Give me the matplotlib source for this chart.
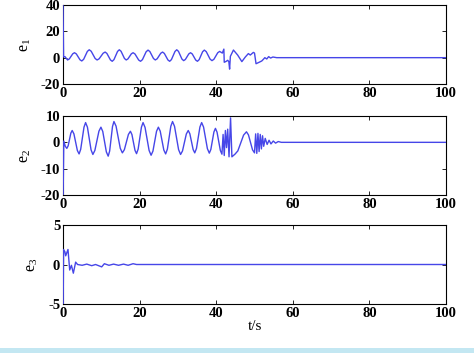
import matplotlib
matplotlib.use("Agg")
import matplotlib.pyplot as plt
from matplotlib.patches import Rectangle

plt.rcParams['font.family'] = ['Liberation Serif', 'DejaVu Serif']
plt.rcParams['mathtext.fontset'] = 'custom'
plt.rcParams['mathtext.rm'] = 'Liberation Serif'
plt.rcParams['mathtext.it'] = 'Liberation Serif:italic'
plt.rcParams['axes.unicode_minus'] = False

# ---- data ----
t_e1 = [0, 0.15, 0.5, 1.2, 1.65, 2.55, 3.0, 3.48, 4.43, 4.9, 5.39, 6.36, 6.85, 7.36, 8.39,
        8.9, 9.43, 10.48, 11.0, 11.46, 12.39, 12.85, 13.31, 14.24, 14.7, 15.15, 16.05,
        16.5, 16.95, 17.85, 18.3, 18.79, 19.76, 20.25, 20.74, 21.71, 22.2, 22.68, 23.63,
        24.1, 24.58, 25.53, 26.0, 26.46, 27.39, 27.85, 28.31, 29.24, 29.7, 30.15, 31.05,
        31.5, 31.95, 32.85, 33.3, 33.75, 34.65, 35.1, 35.55, 36.45, 36.9, 37.4, 38.4,
        38.9, 39.4, 40.4, 40.9, 41.6, 42.0,
        42.1, 42.6, 43.0, 43.3, 43.5, 43.7, 44.5, 45.6, 46.7, 47.6, 48.4, 48.9, 49.7,
        50.0, 50.4, 51.2, 51.9, 52.4, 52.7, 53.2, 53.7, 54.2, 54.8, 55.8, 100]
e1 = [42, 0.5, 0.8, -1.75, -0.94, 2.94, 3.75, 2.84, -1.59, -2.5, -1.25, 4.75, 6.0, 4.87, -0.62,
      -1.75, -0.87, 3.37, 4.25, 3.22, -1.72, -2.75, -1.47, 4.72, 6.0, 4.87, -0.62,
      -1.75, -0.94, 2.94, 3.75, 2.8, -1.8, -2.75, -1.5, 4.5, 5.75, 4.65, -0.65,
      -1.75, -0.87, 3.37, 4.25, 3.22, -1.72, -2.75, -1.47, 4.72, 6.0, 4.79, -1.04,
      -2.25, -1.37, 2.87, 3.75, 2.8, -1.8, -2.75, -1.5, 4.5, 5.75, 4.58, -1.08,
      -2.25, -1.22, 3.72, 4.75, 3.5, 6.5,
      -3.5, -2.8, -2.0, -3.0, -8.7, 1.0, 5.8, 2.0, -3.0, 0.5, 3.1, 2.0, 4.0,
      3.5, -4.6, -3.5, -2.5, -1.0, 0.0, -1.0, 0.8, -0.3, 0.5, 0.0, 0.0]

t_e2 = [0, 0.2, 0.6, 1.0, 1.35, 2.05, 2.4, 2.85, 3.75, 4.2, 4.62, 5.48, 5.9, 6.38, 7.32,
        7.8, 8.32, 9.38, 9.9, 10.38, 11.32, 11.8, 12.18, 12.92, 13.3, 13.85, 14.95,
        15.5, 16.02, 17.08, 17.6, 18.0, 18.8, 19.2, 19.62, 20.48, 20.9, 21.42, 22.48,
        23.0, 23.48, 24.42, 24.9, 25.38, 26.32, 26.8, 27.25, 28.15, 28.6, 29.12, 30.18,
        30.7, 31.2, 32.2, 32.7, 33.12, 33.98, 34.4, 34.85, 35.75, 36.2, 36.7, 37.7,
        38.2, 38.6, 39.4, 39.8, 40.22, 41.08, 41.5, 41.8, 42.1, 42.4, 42.7, 43.0,
        43.35, 43.75, 44.1, 44.9, 45.65, 47.15, 47.9, 48.42, 49.48, 50.0, 50.3, 50.6,
        50.9, 51.2, 51.5, 51.8, 52.1, 52.4, 52.8, 53.3, 53.8, 54.3, 54.9, 55.5, 56.2,
        57.0, 100]
e2 = [-25, 0.5, -1.5, -2.3, -1.3, 3.5, 4.5, 3.2, -3.1, -4.4, -2.65, 5.75, 7.5, 5.73, -2.83,
      -4.6, -3.08, 4.23, 5.75, 4.14, -3.64, -5.25, -3.32, 5.97, 7.9, 6.16, -2.26,
      -4.0, -2.8, 3.0, 4.2, 2.95, -3.05, -4.3, -2.57, 5.77, 7.5, 5.68, -3.08,
      -4.9, -3.34, 4.19, 5.75, 4.26, -2.91, -4.4, -2.6, 6.1, 7.9, 6.07, -2.77,
      -4.6, -3.27, 3.17, 4.5, 3.25, -2.75, -4.0, -2.32, 5.82, 7.5, 5.8, -2.4,
      -4.1, -2.72, 3.92, 5.3, 3.86, -3.06, -4.5, 3.0, -5.0, 4.5, -2.0, 5.0,
      -5.5, 9.3, -5.5, -4.5, -3.25, 2.75, 4.0, 2.83, -2.83, -4.0, 3.2, -4.2,
      3.4, -3.5, 3.0, -2.5, 2.5, -1.5, 1.5, -0.8, 0.8, -0.6, 0.5, -0.3, 0.3,
      0.0, 0.0]

t_e3 = [0, 0.15, 0.5, 0.7, 1.3, 1.75, 2.2, 2.7, 3.3, 3.8, 5.0, 6.2, 7.5, 8.5, 10.1,
        10.8, 12.0, 13.2, 14.5, 15.8, 17.0, 18.3, 19.2, 100]
e3 = [-8, 1.9, 1.6, 1.1, 1.9, -0.7, -0.1, -1.1, 0.3, 0.0, -0.1, 0.05, -0.15, 0.0, -0.3,
      0.1, -0.1, 0.05, -0.1, 0.05, -0.1, 0.1, 0.0, 0.0]

series = [(t_e1, e1), (t_e2, e2), (t_e3, e3)]
ylabels = [r'$\mathrm{e}_1$', r'$\mathrm{e}_2$', r'$\mathrm{e}_3$']
ylims = [(-20, 40), (-20, 10), (-5, 5)]
yticks = [[-20, 0, 20, 40], [-20, -10, 0, 10], [-5, 0, 5]]
xticks = [0, 20, 40, 60, 80, 100]

W, H = 474, 353
fig = plt.figure(figsize=(W / 100, H / 100), dpi=100)
fig.patches.append(Rectangle((0, 0), 1, 5.5 / H, transform=fig.transFigure,
                             facecolor='#c3e7f2', edgecolor='none'))

tops = [5, 116, 225]
left, right = 63, 446
hgt = 79
line_color = '#4646e8'
for i, (top, (tx, ty)) in enumerate(zip(tops, series)):
    ax = fig.add_axes([left / W, 1 - (top + hgt) / H, (right - left) / W, hgt / H])
    ax.plot(tx, ty, color=line_color, lw=1.0, zorder=3)
    ax.set_xlim(0, 100)
    ax.set_ylim(*ylims[i])
    ax.set_xticks(xticks)
    ax.set_yticks(yticks[i])
    ax.tick_params(direction='in', top=True, right=True, length=3, width=0.6,
                   labelsize=10.5, pad=2)
    for lab in ax.get_xticklabels() + ax.get_yticklabels():
        lab.set_fontweight('bold')
    for s in ax.spines.values():
        s.set_linewidth(0.8)
    ax.set_ylabel(ylabels[i], fontsize=11.5, labelpad=6)
    if i == 2:
        ax.set_xlabel('t/s', fontsize=11, labelpad=0)

fig.savefig('out.png', dpi=100)
